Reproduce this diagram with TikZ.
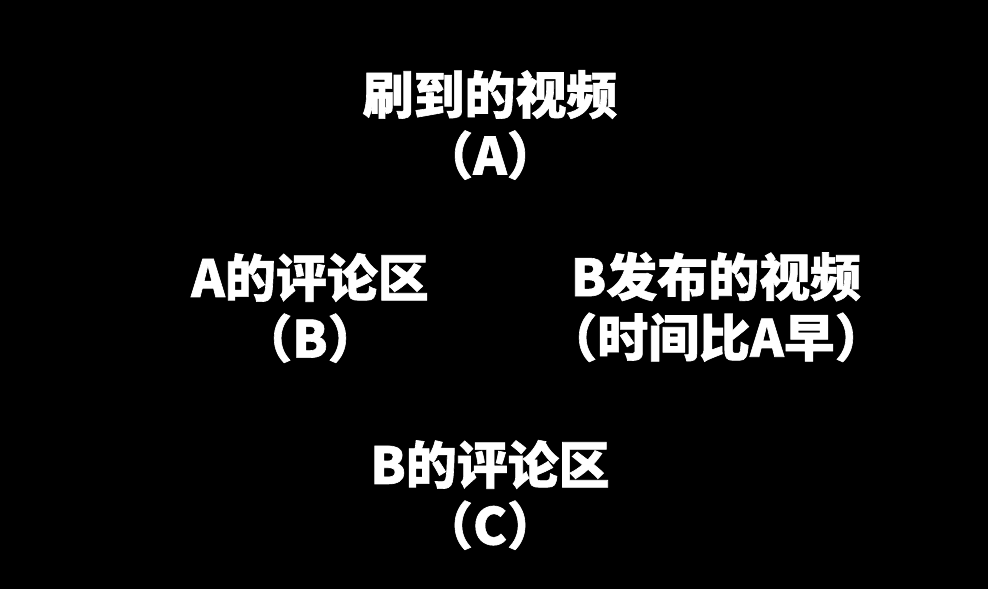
\documentclass[tikz,border=0pt]{standalone}
\usepackage{fontspec}
\newfontfamily\cjk[BoldFeatures={FakeBold=1.2}]{Noto Sans CJK SC}
\usetikzlibrary{positioning}
\tikzset{
  label/.style={text=white, align=center, inner sep=0pt,
    font=\cjk\bfseries\fontsize{29}{34.5}\selectfont},
}

\begin{document}
\begin{tikzpicture}
			%%%%% START %%%%%
			
			\fill[black] (0, 0) rectangle (19.76, 11.78);
			\useasboundingbox (0, 0) rectangle (19.76, 11.78);
			
			\node[label] (video) at (9.8, 9.28) {刷到的视频\\（A）};
			
			\node[label] (commentA) at (6.2, 5.62) {A的评论区\\（B）};
			\node[label] (videoB) at (14.32, 5.64) {B发布的视频\\（时间比A早）};
			
			\node[label] (commentB) at (9.8, 1.88) {B的评论区\\（C）};
			
			%%%%% END %%%%%
		\end{tikzpicture}
\end{document}
